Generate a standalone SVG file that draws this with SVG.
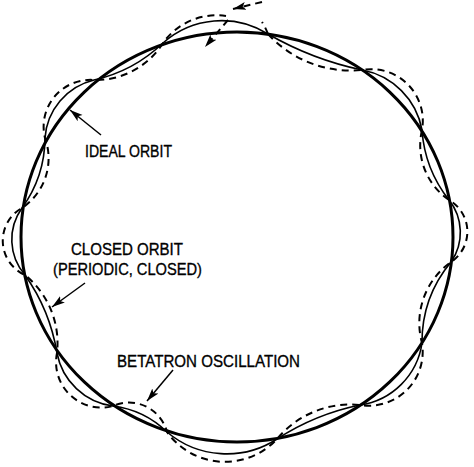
<svg xmlns="http://www.w3.org/2000/svg" width="474" height="467" viewBox="0 0 474 467">
<style>
.ideal{fill:none;stroke:#000;stroke-width:3}
.closed{fill:none;stroke:#000;stroke-width:1.6}
.beta{fill:none;stroke:#000;stroke-width:2;stroke-dasharray:7 5}
.lead{fill:none;stroke:#000;stroke-width:1.5}
.lbl{font-family:"Liberation Sans",Arial,sans-serif;font-size:17px;fill:#000;stroke:#000;stroke-width:0.35}
</style>
<defs>
<marker id="ah" markerWidth="14" markerHeight="10" refX="13" refY="5" orient="auto" markerUnits="userSpaceOnUse">
<path d="M0,1 L13,5 L0,9 L3,5 Z" fill="#000"/>
</marker>
</defs>
<rect width="474" height="467" fill="#fff"/>
<g id="ideal-orbit">
<ellipse class="ideal" cx="237" cy="237" rx="216" ry="205"/>
</g>
<g id="closed-orbit">
<path class="closed" d="M22,208 A120.6,120.6 0 0 0 45,138 A64.2,64.2 0 0 1 94,80 A145.9,145.9 0 0 0 163,43 A87.7,87.7 0 0 1 268,34 A322,322 0 0 0 362,70 A74.4,74.4 0 0 1 422,130 A127.2,127.2 0 0 0 449,200 A51.8,51.8 0 0 1 451,262 A125.4,125.4 0 0 0 422,343 A73.1,73.1 0 0 1 360,405 A240.9,240.9 0 0 0 277,439 A92.5,92.5 0 0 1 167,432 A94.6,94.6 0 0 0 113,406 A65.6,65.6 0 0 1 57,353 A188.4,188.4 0 0 0 25,275 A54,54 0 0 1 22,208 Z"/>
</g>
<g id="betatron-oscillation">
<path class="beta" d="M268,34 A112,112 0 0 0 362,70 A51.6,51.6 0 0 1 422,130 A66.2,66.2 0 0 0 449,200 A36.4,36.4 0 0 1 451,262 A74.8,74.8 0 0 0 422,343 A53.9,53.9 0 0 1 360,405 A95.3,95.3 0 0 0 277,439 A71,71 0 0 1 167,432 A39.3,39.3 0 0 0 113,406 A45.3,45.3 0 0 1 57,353 A87.8,87.8 0 0 0 25,275 A37.5,37.5 0 0 1 22,208 A59.6,59.6 0 0 0 45,138 A46.8,46.8 0 0 1 94,80 A79.2,79.2 0 0 0 163,43 A65.5,65.5 0 0 1 226,16"/>
<path class="beta" d="M268,34 A65.5,65.5 0 0 0 262,22" />
<path class="beta" d="M262,2 L233,9" marker-end="url(#ah)"/>
<path class="beta" d="M228,20 L205,47" marker-end="url(#ah)"/>
</g>
<g id="connectors">
<line class="lead" x1="101" y1="135" x2="70" y2="110" marker-end="url(#ah)"/>
<line class="lead" x1="85" y1="283" x2="52" y2="307" marker-end="url(#ah)"/>
<line class="lead" x1="173" y1="370" x2="147" y2="401" marker-end="url(#ah)"/>
</g>
<g id="label-ideal">
<text class="lbl" x="85" y="157" textLength="87" lengthAdjust="spacingAndGlyphs">IDEAL ORBIT</text>
</g>
<g id="label-closed">
<text class="lbl" x="71" y="255" textLength="112" lengthAdjust="spacingAndGlyphs">CLOSED ORBIT</text>
<text class="lbl" x="53" y="275" textLength="149" lengthAdjust="spacingAndGlyphs">(PERIODIC, CLOSED)</text>
</g>
<g id="label-betatron">
<text class="lbl" x="117" y="367" textLength="183" lengthAdjust="spacingAndGlyphs">BETATRON OSCILLATION</text>
</g>
</svg>
